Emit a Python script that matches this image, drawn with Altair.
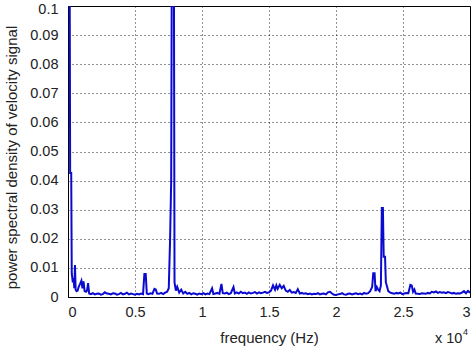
import altair as alt
import pandas as pd

freq_e4 = [
    0.000, 0.012, 0.016, 0.024, 0.028, 0.036, 0.042, 0.047, 0.052, 0.057,
    0.064, 0.072, 0.080, 0.090, 0.100, 0.108, 0.116, 0.124, 0.134, 0.142,
    0.150, 0.158, 0.170, 0.185, 0.200, 0.215, 0.230, 0.245, 0.260, 0.275,
    0.290, 0.305, 0.320, 0.335, 0.350, 0.365, 0.380, 0.395, 0.410, 0.425,
    0.440, 0.455, 0.470, 0.485, 0.500, 0.515, 0.530, 0.545, 0.560, 0.570,
    0.580, 0.588, 0.600, 0.615, 0.630, 0.645, 0.655, 0.665, 0.680, 0.695,
    0.710, 0.725, 0.740, 0.752, 0.762, 0.770, 0.775, 0.790, 0.795, 0.805,
    0.815, 0.830, 0.845, 0.860, 0.875, 0.890, 0.905, 0.920, 0.935, 0.950,
    0.965, 0.980, 0.995, 1.010, 1.025, 1.040, 1.055, 1.075, 1.085, 1.100,
    1.115, 1.130, 1.145, 1.155, 1.170, 1.185, 1.200, 1.215, 1.235, 1.245,
    1.260, 1.275, 1.290, 1.305, 1.320, 1.335, 1.350, 1.365, 1.380, 1.395,
    1.410, 1.425, 1.440, 1.455, 1.470, 1.485, 1.500, 1.515, 1.530, 1.545,
    1.555, 1.565, 1.580, 1.595, 1.610, 1.625, 1.640, 1.655, 1.670, 1.685,
    1.700, 1.715, 1.730, 1.745, 1.760, 1.775, 1.790, 1.805, 1.820, 1.835,
    1.850, 1.865, 1.880, 1.895, 1.910, 1.925, 1.940, 1.955, 1.970, 1.985,
    2.000, 2.015, 2.030, 2.045, 2.060, 2.075, 2.090, 2.105, 2.120, 2.135,
    2.150, 2.165, 2.180, 2.195, 2.210, 2.225, 2.240, 2.255, 2.270, 2.278,
    2.288, 2.295, 2.305, 2.315, 2.325, 2.335, 2.342, 2.350, 2.356, 2.366,
    2.372, 2.380, 2.390, 2.405, 2.420, 2.435, 2.450, 2.465, 2.480, 2.495,
    2.510, 2.525, 2.540, 2.555, 2.565, 2.575, 2.585, 2.595, 2.610, 2.625,
    2.640, 2.655, 2.670, 2.685, 2.700, 2.715, 2.730, 2.745, 2.760, 2.775,
    2.790, 2.805, 2.820, 2.835, 2.850, 2.865, 2.880, 2.895, 2.910, 2.925,
    2.940, 2.955, 2.970, 2.985, 3.000,
]

psd = [
    0.12, 0.12, 0.0426, 0.0426, 0.008, 0.005, 0.0065, 0.003, 0.011, 0.0025,
    0.002, 0.0022, 0.0035, 0.0045, 0.0056, 0.003, 0.0054, 0.002, 0.0018, 0.0022,
    0.0048, 0.0012, 0.001, 0.0013, 0.0009, 0.0011, 0.0012, 0.0008, 0.001, 0.0016,
    0.0012, 0.0011, 0.0009, 0.0013, 0.0012, 0.0008, 0.001, 0.0014, 0.0009, 0.0011,
    0.0015, 0.0009, 0.0012, 0.001, 0.0008, 0.0011, 0.0009, 0.0012, 0.001, 0.0079,
    0.0079, 0.0012, 0.001, 0.0013, 0.0011, 0.0028, 0.0026, 0.0012, 0.0011, 0.0014,
    0.001, 0.0015, 0.0018, 0.003, 0.02, 0.04, 0.12, 0.12, 0.005, 0.0022,
    0.0035, 0.0015, 0.0025, 0.0012, 0.0018, 0.0011, 0.0014, 0.0009, 0.0013, 0.0011,
    0.0008, 0.0012, 0.001, 0.0013, 0.0009, 0.0012, 0.001, 0.003, 0.001, 0.0012,
    0.0014, 0.0011, 0.0045, 0.0013, 0.0012, 0.0015, 0.001, 0.0013, 0.0034, 0.0012,
    0.0016, 0.0012, 0.0018, 0.0013, 0.0015, 0.0011, 0.0016, 0.0012, 0.0014, 0.0017,
    0.0012, 0.0016, 0.0013, 0.0015, 0.0018, 0.0014, 0.0016, 0.0022, 0.004, 0.0025,
    0.004, 0.0028, 0.0042, 0.003, 0.0038, 0.0022, 0.0018, 0.0024, 0.0015, 0.0017,
    0.0014, 0.0027, 0.0012, 0.0014, 0.0011, 0.0013, 0.001, 0.0012, 0.0009, 0.0011,
    0.001, 0.0013, 0.0009, 0.0011, 0.0012, 0.0009, 0.0016, 0.0018, 0.0012, 0.0008,
    0.0007, 0.0009, 0.001, 0.0013, 0.0009, 0.0008, 0.0011, 0.0012, 0.0009, 0.0011,
    0.0013, 0.001, 0.0012, 0.0009, 0.0014, 0.0011, 0.0013, 0.002, 0.0035, 0.0082,
    0.0082, 0.002, 0.0034, 0.0025, 0.002, 0.004, 0.0306, 0.0306, 0.0138, 0.0138,
    0.005, 0.0038, 0.002, 0.0015, 0.0013, 0.0011, 0.0014, 0.0012, 0.0015, 0.001,
    0.0012, 0.0014, 0.0013, 0.0042, 0.004, 0.0018, 0.0026, 0.0012, 0.0011, 0.001,
    0.0013, 0.0012, 0.0011, 0.0014, 0.0012, 0.0018, 0.0016, 0.0019, 0.0014, 0.0017,
    0.0015, 0.0016, 0.0013, 0.0017, 0.0015, 0.0012, 0.0014, 0.0011, 0.0013, 0.0012,
    0.0015, 0.002, 0.0013, 0.0021, 0.0015,
]

x_ticks = [0, 0.5, 1, 1.5, 2, 2.5, 3]
y_ticks = [0, 0.01, 0.02, 0.03, 0.04, 0.05, 0.06, 0.07, 0.08, 0.09, 0.1]

df = pd.DataFrame({"f": freq_e4, "p": psd})

FONT = "Liberation Sans"
TXT = "#222"
LBL = 14.5
TTL = 15

line = alt.Chart(df).mark_line(color="#0b0bd0", strokeWidth=2, clip=True).encode(
    x=alt.X("f:Q", scale=alt.Scale(domain=[0, 3], nice=False),
            axis=alt.Axis(values=x_ticks, title="frequency (Hz)", format="~g",
                          grid=True, gridColor="#000", gridDash=[1, 3], gridOpacity=0.85,
                          ticks=False, domainColor="#000", labelPadding=8,
                          labelFont=FONT, labelFontSize=LBL, labelColor=TXT,
                          titleFont=FONT, titleFontSize=TTL, titleColor=TXT,
                          titleX=201, titleY=45, titleBaseline="alphabetic",
                          titleFontWeight="normal")),
    y=alt.Y("p:Q", scale=alt.Scale(domain=[0, 0.1], nice=False),
            axis=alt.Axis(values=y_ticks, title="power spectral density of velocity signal",
                          format="~g", grid=True, gridColor="#000", gridDash=[1, 3],
                          gridOpacity=0.85, ticks=False, domainColor="#000", labelPadding=10,
                          labelOffset={"condition": {"test": "datum.value >= 0.1", "value": 3},
                                       "value": 0},
                          labelFont=FONT, labelFontSize=LBL, labelColor=TXT,
                          titleFont=FONT, titleFontSize=TTL, titleColor=TXT,
                          titleAngle=270, titleX=-57, titleY=151, titleAlign="center",
                          titleBaseline="middle", titleFontWeight="normal")),
)

exp_base = alt.Chart(pd.DataFrame({"t": ["x 10"]})).mark_text(
    align="left", baseline="alphabetic", fontSize=14.5, font=FONT, color=TXT
).encode(x=alt.value(367), y=alt.value(337), text="t:N")

exp_sup = alt.Chart(pd.DataFrame({"t": ["4"]})).mark_text(
    align="left", baseline="alphabetic", fontSize=9, font=FONT, color=TXT
).encode(x=alt.value(395), y=alt.value(329), text="t:N")

chart = alt.layer(line, exp_base, exp_sup).properties(
    width=402, height=291,
    background="white",
    autosize=alt.AutoSizeParams(type="none"),
    padding={"left": 68, "top": 6, "right": 4, "bottom": 50},
).configure_view(stroke="#000", strokeWidth=1)

chart.save("out.html", embed_options={"renderer": "svg", "actions": False})
